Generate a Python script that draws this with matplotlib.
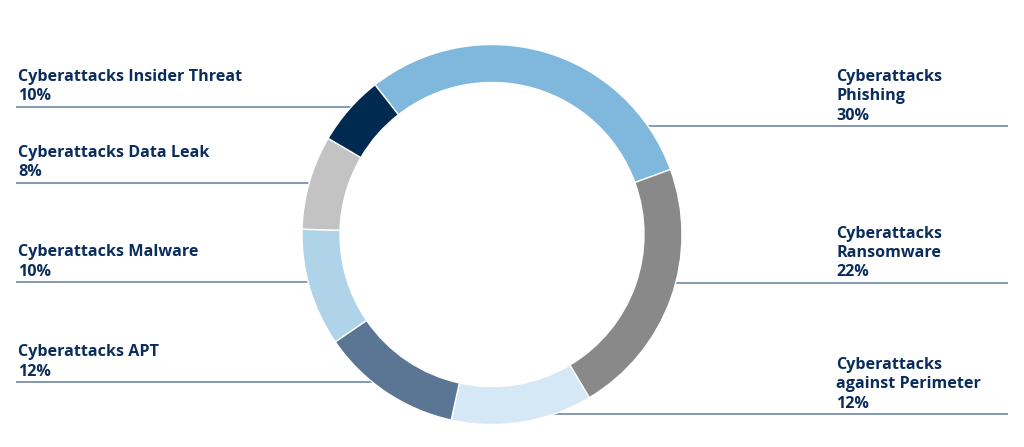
import numpy as np
import matplotlib.pyplot as plt

# Donut data (wedge sizes as drawn, label text as printed)
names = ['Phishing', 'Ransomware', 'against Perimeter', 'APT', 'Malware', 'Data Leak', 'Insider Threat']
sizes = [30, 22, 12, 12, 10, 8, 6]
pct_labels = ['30%', '22%', '12%', '12%', '10%', '8%', '10%']
colors = ['#7fb8dc', '#898989', '#d5e8f5', '#5b7594', '#afd4ea', '#c3c3c3', '#012a51']

text_color = '#0b2d5b'
line_color = '#6f88a8'

W, H = 1024, 447
fig = plt.figure(figsize=(W / 100, H / 100), dpi=100)
ax = fig.add_axes([0, 0, 1, 1])

cx, cy = 492, H - 234.5
R = 190
ax.pie(sizes, colors=colors, center=(cx, cy), radius=R, startangle=128,
       counterclock=False,
       wedgeprops=dict(width=R * 0.2, edgecolor='white', linewidth=1.0))

ax.set_xlim(0, W)
ax.set_ylim(0, H)
ax.set_aspect('equal')
ax.axis('off')

font = dict(family=['Open Sans', 'DejaVu Sans'],
            fontweight='bold', fontsize=11.6, color=text_color)

# label blocks: (index, side, line y in px from top, text lines)
blocks = [
    (6, 'left', 107, ['Cyberattacks Insider Threat']),
    (5, 'left', 183, ['Cyberattacks Data Leak']),
    (4, 'left', 282, ['Cyberattacks Malware']),
    (3, 'left', 382, ['Cyberattacks APT']),
    (0, 'right', 126, ['Cyberattacks', 'Phishing']),
    (1, 'right', 283, ['Cyberattacks', 'Ransomware']),
    (2, 'right', 414, ['Cyberattacks', 'against Perimeter']),
]

step = 19.3
for idx, side, ly, lines in blocks:
    rows = lines + [pct_labels[idx]]
    y_line = H - ly
    dy = abs(y_line - cy)
    half = np.sqrt(max(R ** 2 - dy ** 2, 0))
    if side == 'left':
        tx = 18
        ax.plot([16, cx - half], [y_line, y_line], color=line_color, lw=1.2, zorder=0.5,
                solid_capstyle='butt')
    else:
        tx = 836
        ax.plot([cx + half, 1008], [y_line, y_line], color=line_color, lw=1.2, zorder=0.5,
                solid_capstyle='butt')
    base = y_line + 6.5
    for k, row in enumerate(reversed(rows)):
        ax.text(tx, base + k * step, row, ha='left', va='baseline', **font)

fig.savefig('out.png', dpi=100, facecolor='white')
